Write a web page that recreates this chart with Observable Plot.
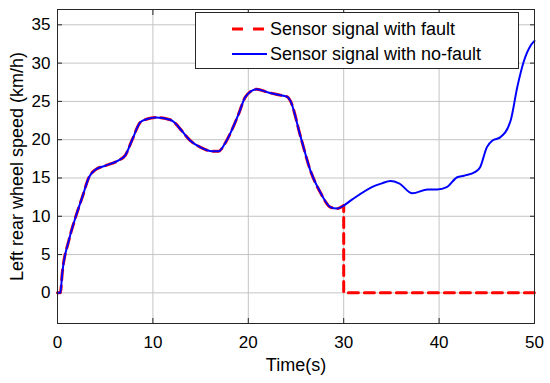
<!DOCTYPE html>
<html>
<head>
<meta charset="utf-8">
<script src="https://cdn.jsdelivr.net/npm/d3@7"></script>
<script src="https://cdn.jsdelivr.net/npm/@observablehq/plot@0.6"></script>
<style>
  html, body { margin: 0; padding: 0; background: #fff; }
  #chart svg { display: block; font-family: "Liberation Sans", Arial, sans-serif; }
</style>
</head>
<body>
<div id="chart"></div>
<script>
// Sensor signal with no-fault (blue solid)
const noFaultTime = [0, 0.3, 0.5, 1.2, 1.9, 2.6, 3.3, 4.0, 5.0, 6.4, 7.1, 7.8, 8.7, 9.4, 10.3, 11.8, 12.2, 13.0, 13.9, 15.0, 16.2, 16.9, 17.5, 18.1, 19.0, 19.7, 20.9, 22.0, 23.0, 24.1, 24.4, 25.5, 26.5, 27.6, 28.6, 29.3, 30.0, 30.9, 33.3, 34.0, 34.9, 35.8, 37.2, 38.8, 39.8, 40.8, 41.9, 42.6, 43.8, 44.3, 45.0, 45.6, 46.4, 47.5, 48.2, 48.9, 49.6, 50];
const noFaultSpeed = [0, 0, 2.6, 6.9, 9.9, 12.5, 15.1, 16.1, 16.6, 17.3, 17.95, 19.9, 22.3, 22.7, 22.9, 22.6, 22.3, 21.2, 19.9, 19.0, 18.5, 18.5, 19.4, 20.8, 23.4, 25.6, 26.6, 26.2, 25.9, 25.6, 25.1, 20.3, 16.0, 13.0, 11.2, 11.0, 11.4, 12.2, 14.0, 14.3, 14.6, 14.3, 13.0, 13.5, 13.5, 13.8, 15.1, 15.3, 15.8, 16.4, 19.0, 19.9, 20.3, 22.5, 26.9, 30.3, 32.3, 32.9];

// Sensor signal with fault (red dashed)
const faultTime = [0, 0.3, 0.5, 1.2, 1.9, 2.6, 3.3, 4.0, 5.0, 6.4, 7.1, 7.8, 8.7, 9.4, 10.3, 11.8, 12.2, 13.0, 13.9, 15.0, 16.2, 16.9, 17.5, 18.1, 19.0, 19.7, 20.9, 22.0, 23.0, 24.1, 24.4, 25.5, 26.5, 27.6, 28.6, 29.3, 30.0, 30.0, 50];
const faultSpeed = [0, 0, 2.6, 6.9, 9.9, 12.5, 15.1, 16.1, 16.6, 17.3, 17.95, 19.9, 22.3, 22.7, 22.9, 22.6, 22.3, 21.2, 19.9, 19.0, 18.5, 18.5, 19.4, 20.8, 23.4, 25.6, 26.6, 26.2, 25.9, 25.6, 25.1, 20.3, 16.0, 13.0, 11.2, 11.0, 11.4, 0, 0];

const xTicks = [0, 10, 20, 30, 40, 50];
const yTicks = [0, 5, 10, 15, 20, 25, 30, 35];
const xDomain = [0, 50];
const yDomain = [-4, 37];
const seriesNames = ["Sensor signal with fault", "Sensor signal with no-fault"];
const xLabel = "Time(s)";
const yLabel = "Left rear wheel speed (km/h)";

const noFault = noFaultTime.map((t, i) => ({t, v: noFaultSpeed[i]}));
const fault = faultTime.map((t, i) => ({t, v: faultSpeed[i]}));

// the part of the fault series before the drop is smooth; the drop and flat tail are straight
const faultSmooth = fault.slice(0, fault.length - 2);
const faultStep = fault.slice(fault.length - 3);

const tickColor = "#262626";

const chart = Plot.plot({
  width: 550,
  height: 383,
  marginLeft: 57,
  marginRight: 16,
  marginTop: 9,
  marginBottom: 60,
  style: {fontFamily: "Liberation Sans, Arial, sans-serif", background: "#fff", overflow: "visible"},
  x: {domain: xDomain},
  y: {domain: yDomain},
  marks: [
    Plot.gridX(xTicks, {stroke: "#c4c4c4", strokeOpacity: 1, strokeWidth: 1}),
    Plot.gridY(yTicks, {stroke: "#c4c4c4", strokeOpacity: 1, strokeWidth: 1}),
    Plot.axisX(xTicks, {anchor: "bottom", tickSize: 0, tickPadding: 12, fontSize: 17, fill: "#000", label: null}),
    Plot.axisY(yTicks, {anchor: "left", tickSize: 0, tickPadding: 7, fontSize: 17, fill: "#000", label: null}),
    Plot.axisX(xTicks, {anchor: "bottom", tickSize: -5, tickFormat: () => "", stroke: tickColor, label: null}),
    Plot.axisX(xTicks, {anchor: "top", tickSize: -5, tickFormat: () => "", stroke: tickColor, label: null}),
    Plot.axisY(yTicks, {anchor: "left", tickSize: -5, tickFormat: () => "", stroke: tickColor, label: null}),
    Plot.axisY(yTicks, {anchor: "right", tickSize: -5, tickFormat: () => "", stroke: tickColor, label: null}),
    Plot.line(faultSmooth, {x: "t", y: "v", stroke: "#ff0000", strokeWidth: 3, strokeDasharray: "10,6", curve: "monotone-x"}),
    Plot.line(faultStep, {x: "t", y: "v", stroke: "#ff0000", strokeWidth: 3, strokeDasharray: "10,6", strokeDashoffset: 4}),
    Plot.line(noFault, {x: "t", y: "v", stroke: "#0000ff", strokeWidth: 2, curve: "monotone-x"}),
    Plot.frame({stroke: tickColor, strokeWidth: 1}),
    Plot.text([xLabel], {text: d => d, frameAnchor: "bottom", dy: 42, textAnchor: "middle", lineAnchor: "middle", fontSize: 18, fill: "#000"}),
    Plot.text([yLabel], {text: d => d, frameAnchor: "left", dx: -40, rotate: -90, textAnchor: "middle", lineAnchor: "middle", fontSize: 18, fill: "#000"})
  ]
});

// Legend inside the plot, top-right (as in the reference)
const svg = d3.select(chart);
const lg = svg.append("g").attr("class", "legend").attr("text-anchor", "start");
lg.append("rect").attr("x", 195.5).attr("y", 12.5).attr("width", 323).attr("height", 56)
  .attr("fill", "#fff").attr("stroke", tickColor).attr("stroke-width", 1);
const rows = [
  {name: seriesNames[0], color: "#ff0000", width: 3, dash: "11,10", y: 29},
  {name: seriesNames[1], color: "#0000ff", width: 2, dash: null, y: 54}
];
rows.forEach(r => {
  lg.append("line").attr("x1", 232).attr("x2", 267).attr("y1", r.y).attr("y2", r.y)
    .attr("stroke", r.color).attr("stroke-width", r.width).attr("stroke-dasharray", r.dash);
  lg.append("text").attr("x", 270).attr("y", r.y).attr("dy", "0.35em").attr("text-anchor", "start")
    .attr("font-size", 18).attr("fill", "#000").text(r.name);
});

document.getElementById("chart").appendChild(chart);
</script>
</body>
</html>
